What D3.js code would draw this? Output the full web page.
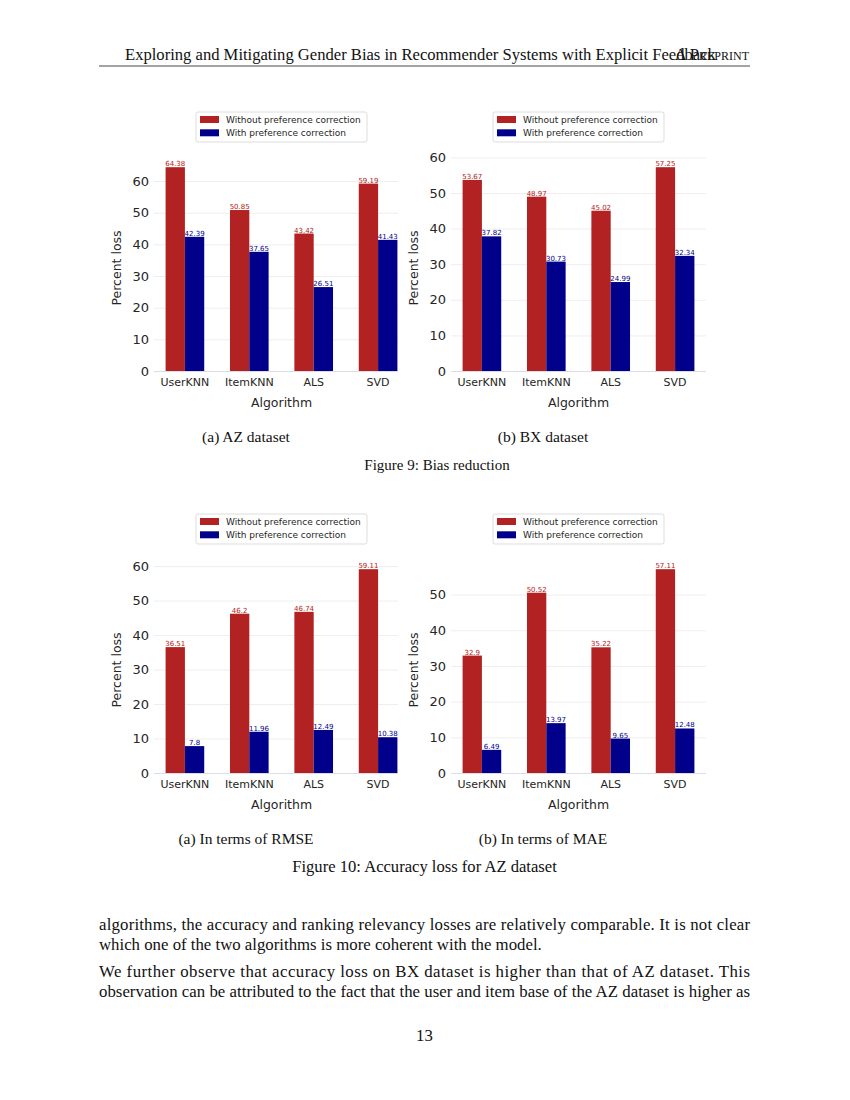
<!DOCTYPE html>
<html>
<head>
<meta charset="utf-8">
<script src="https://cdn.jsdelivr.net/npm/d3@7"></script>
<style>
  html, body { margin: 0; padding: 0; background: #fff; }
  svg { display: block; }
</style>
</head>
<body>
<svg id="page" width="850" height="1100"></svg>
<script>
// ---------------- data ----------------
const categories = ["UserKNN", "ItemKNN", "ALS", "SVD"];
const seriesNames = ["Without preference correction", "With preference correction"];

const azWithout = [64.38, 50.85, 43.42, 59.19];
const azWith    = [42.39, 37.65, 26.51, 41.43];
const bxWithout = [53.67, 48.97, 45.02, 57.25];
const bxWith    = [37.82, 30.73, 24.99, 32.34];
const rmseWithout = [36.51, 46.2, 46.74, 59.11];
const rmseWith    = [7.8, 11.96, 12.49, 10.38];
const maeWithout  = [32.9, 50.52, 35.22, 57.11];
const maeWith     = [6.49, 13.97, 9.65, 12.48];

const yTicksAZ   = [0, 10, 20, 30, 40, 50, 60];
const yTicksBX   = [0, 10, 20, 30, 40, 50, 60];
const yTicksRMSE = [0, 10, 20, 30, 40, 50, 60];
const yTicksMAE  = [0, 10, 20, 30, 40, 50];

const xLabel = "Algorithm";
const yLabel = "Percent loss";

const headerTitle = "Exploring and Mitigating Gender Bias in Recommender Systems with Explicit Feedback";
const headerRight = "A Preprint";
const subcaptions = ["(a) AZ dataset", "(b) BX dataset", "(a) In terms of RMSE", "(b) In terms of MAE"];
const figCaptions = ["Figure 9: Bias reduction", "Figure 10: Accuracy loss for AZ dataset"];
const bodyLines = [
  {text: "algorithms, the accuracy and ranking relevancy losses are relatively comparable. It is not clear", justify: true},
  {text: "which one of the two algorithms is more coherent with the model.", justify: false},
  {text: "We further observe that accuracy loss on BX dataset is higher than that of AZ dataset. This", justify: true},
  {text: "observation can be attributed to the fact that the user and item base of the AZ dataset is higher as", justify: true}
];
const pageNumber = "13";

// ---------------- style ----------------
const colors = ["#b22222", "#00008b"];
const sansFont = "'DejaVu Sans', sans-serif";
const serifFont = "'Liberation Serif', 'Times New Roman', serif";
const textColor = "#262626";

const svg = d3.select("#page");
svg.append("rect").attr("width", 850).attr("height", 1100).attr("fill", "#fff");

// ---------------- chart drawer ----------------
function drawChart(cfg, idx) {
  const {left, right, top, bottom, clipRight, without, withc, ticks} = cfg;
  const clipId = "clip" + idx;
  svg.append("clipPath").attr("id", clipId)
    .append("rect").attr("x", left - 80).attr("y", top - 60)
    .attr("width", clipRight - (left - 80)).attr("height", bottom - top + 120);
  const g = svg.append("g").attr("clip-path", `url(#${clipId})`);

  const yMax = d3.max(without.concat(withc)) * 1.05;
  const y = d3.scaleLinear().domain([0, yMax]).range([bottom, top]);
  const x0 = d3.scaleBand().domain(categories).range([left, right])
    .paddingInner(0.4).paddingOuter(0.18);
  const x1 = d3.scaleBand().domain([0, 1]).range([0, x0.bandwidth()]);

  // grid + y tick labels
  const yAxis = g.append("g").attr("transform", `translate(${left},0)`)
    .call(d3.axisLeft(y).tickValues(ticks).tickSize(-(right - left)).tickPadding(5).tickFormat(d3.format("d")));
  yAxis.select(".domain").remove();
  yAxis.selectAll(".tick line").attr("stroke", d => d === 0 ? "#dcdce6" : "#eeeeee").attr("stroke-width", 1);
  yAxis.selectAll(".tick text").attr("font-family", sansFont).attr("font-size", 13).attr("fill", textColor);

  // x axis labels
  const xAxis = g.append("g").attr("transform", `translate(0,${bottom})`)
    .call(d3.axisBottom(x0).tickSize(0).tickPadding(7));
  xAxis.select(".domain").remove();
  xAxis.selectAll(".tick text").attr("font-family", sansFont).attr("font-size", 11).attr("fill", textColor);

  // bars
  const data = categories.map((c, i) => ({cat: c, vals: [without[i], withc[i]]}));
  const groups = g.append("g").selectAll("g").data(data).join("g")
    .attr("transform", d => `translate(${x0(d.cat)},0)`);
  groups.selectAll("rect").data(d => d.vals.map((v, s) => ({v, s}))).join("rect")
    .attr("x", d => x1(d.s)).attr("width", x1.bandwidth())
    .attr("y", d => y(d.v)).attr("height", d => bottom - y(d.v))
    .attr("fill", d => colors[d.s]);
  groups.selectAll("text").data(d => d.vals.map((v, s) => ({v, s}))).join("text")
    .attr("x", d => x1(d.s) + x1.bandwidth() / 2).attr("y", d => y(d.v) - 1)
    .attr("text-anchor", "middle").attr("font-family", sansFont).attr("font-size", 7)
    .attr("fill", d => colors[d.s]).text(d => String(d.v));

  // axis titles
  g.append("text").attr("x", (left + right) / 2).attr("y", bottom + 35.5)
    .attr("text-anchor", "middle").attr("font-family", sansFont).attr("font-size", 12.5)
    .attr("fill", textColor).text(xLabel);
  g.append("text").attr("transform", `translate(${left - 33},${(top + bottom) / 2 + 4}) rotate(-90)`)
    .attr("text-anchor", "middle").attr("font-family", sansFont).attr("font-size", 12.5)
    .attr("fill", textColor).text(yLabel);

  // legend
  const lw = 171, lh = 30;
  const lx = (left + right) / 2 - lw / 2, ly = top - 45;
  const lg = g.append("g").attr("transform", `translate(${lx},${ly})`);
  lg.append("rect").attr("width", lw).attr("height", lh).attr("rx", 2)
    .attr("fill", "#fff").attr("stroke", "#d4d4d4").attr("stroke-width", 0.8);
  seriesNames.forEach((name, s) => {
    lg.append("rect").attr("x", 4).attr("y", 4 + s * 13.3).attr("width", 19).attr("height", 7)
      .attr("fill", colors[s]);
    lg.append("text").attr("x", 30).attr("y", 10.7 + s * 13.3)
      .attr("font-family", sansFont).attr("font-size", 9).attr("fill", textColor).text(name);
  });
}

const dx = 297, dy = 402;
const base = {left: 154, right: 409, top: 157, bottom: 371};
drawChart({...base, clipRight: 398, without: azWithout, withc: azWith, ticks: yTicksAZ}, 0);
drawChart({left: base.left + dx, right: base.right + dx, top: base.top, bottom: base.bottom, clipRight: 760,
  without: bxWithout, withc: bxWith, ticks: yTicksBX}, 1);
drawChart({left: base.left, right: base.right, top: base.top + dy, bottom: base.bottom + dy, clipRight: 398,
  without: rmseWithout, withc: rmseWith, ticks: yTicksRMSE}, 2);
drawChart({left: base.left + dx, right: base.right + dx, top: base.top + dy, bottom: base.bottom + dy, clipRight: 760,
  without: maeWithout, withc: maeWith, ticks: yTicksMAE}, 3);

// ---------------- page text ----------------
const serif = (sel, size) => sel.attr("font-family", serifFont).attr("font-size", size).attr("fill", "#111");

serif(svg.append("text").attr("x", 125).attr("y", 60), 16.6).text(headerTitle);
serif(svg.append("text").attr("x", 749).attr("y", 60).attr("text-anchor", "end")
  .style("font-variant", "small-caps"), 16.5).text(headerRight);
svg.append("line").attr("x1", 99).attr("x2", 750).attr("y1", 66).attr("y2", 66)
  .attr("stroke", "#333").attr("stroke-width", 0.9);

const subX = [246, 543, 246, 543];
const subY = [442, 442, 844, 844];
subcaptions.forEach((t, i) => {
  serif(svg.append("text").attr("x", subX[i]).attr("y", subY[i]).attr("text-anchor", "middle"), 15.5).text(t);
});
serif(svg.append("text").attr("x", 437).attr("y", 470).attr("text-anchor", "middle"), 15).text(figCaptions[0]);
serif(svg.append("text").attr("x", 424.5).attr("y", 872).attr("text-anchor", "middle"), 16.6).text(figCaptions[1]);

const bodyY = [930, 950, 977, 997];
bodyLines.forEach((ln, i) => {
  const t = serif(svg.append("text").attr("x", 99).attr("y", bodyY[i]), 16.8).text(ln.text);
  if (ln.justify) t.attr("textLength", 651).attr("lengthAdjust", "spacing");
});
serif(svg.append("text").attr("x", 424.5).attr("y", 1041).attr("text-anchor", "middle"), 16.8).text(pageNumber);
</script>
</body>
</html>
